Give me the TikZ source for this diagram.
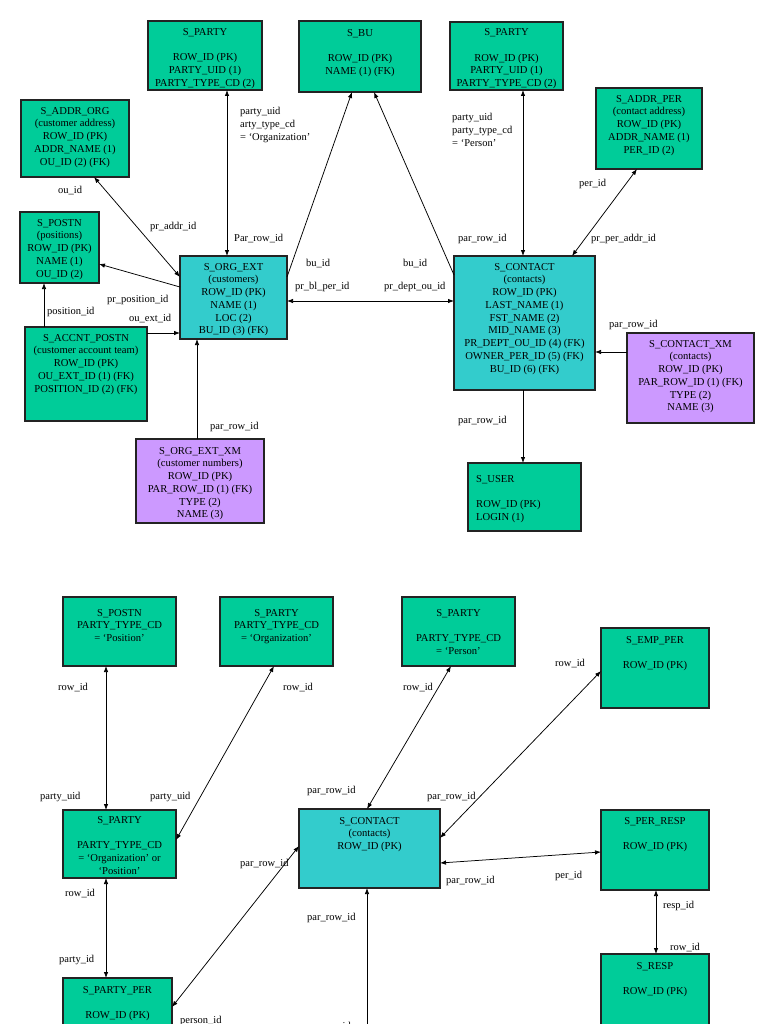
\documentclass[tikz,border=0pt]{standalone}
\usepackage{fontspec}
\setmainfont{Liberation Serif}
\usetikzlibrary{arrows.meta,calc}
\definecolor{tgreen}{RGB}{0,204,153}
\definecolor{tteal}{RGB}{51,204,204}
\definecolor{tpurple}{RGB}{204,153,255}
\definecolor{tborder}{RGB}{35,35,35}
\begin{document}
\begin{tikzpicture}[x=1pt,y=-1pt,
  box/.style={draw=tborder, line width=1.1pt, anchor=north west, inner sep=0pt, outer sep=0pt},
  gbox/.style={box, fill=tgreen},
  tbox/.style={box, fill=tteal},
  pbox/.style={box, fill=tpurple},
  txt/.style={font=\fontsize{10.6}{12.75}\selectfont, align=center, inner sep=0pt, anchor=north, yshift=-2.5pt,
              execute at begin node={\rule{0pt}{9pt}}},
  lbl/.style={font=\fontsize{10.5}{13}\selectfont, inner sep=0pt, anchor=base west, align=left},
  conn/.style={line width=0.75pt, -{Latex[length=6pt,width=4.5pt]}},
  bi/.style={line width=0.75pt, {Latex[length=6pt,width=4.5pt]}-{Latex[length=6pt,width=4.5pt]}}]
\useasboundingbox (0,0) rectangle (768,1024);
\fill[white] (0,0) rectangle (768,1024);

% ---------------- top half boxes ----------------
\node[gbox, minimum width=114pt, minimum height=69pt] (p1) at (148,21) {};
\node[txt] (p1t) at ($(p1.north)+(0,4.5)$) {S\_PARTY\\[12.75pt]ROW\_ID (PK)\\PARTY\_UID (1)\\PARTY\_TYPE\_CD (2)};

\node[gbox, minimum width=122pt, minimum height=71pt] (bu) at (299,21) {};
\node[txt] (but) at ($(bu.north)+(0,5.5)$) {S\_BU\\[12.75pt]ROW\_ID (PK)\\NAME (1) (FK)};

\node[gbox, minimum width=113pt, minimum height=68pt] (p2) at (450,22) {};
\node[txt] (p2t) at ($(p2.north)+(0,4)$) {S\_PARTY\\[12.75pt]ROW\_ID (PK)\\PARTY\_UID (1)\\PARTY\_TYPE\_CD (2)};

\node[gbox, minimum width=106pt, minimum height=81pt] (addrper) at (596,88) {};
\node[txt] (addrpert) at ($(addrper.north)+(0,4.5)$) {S\_ADDR\_PER\\(contact address)\\ROW\_ID (PK)\\ADDR\_NAME (1)\\PER\_ID (2)};

\node[gbox, minimum width=108pt, minimum height=77pt] (addrorg) at (21,100) {};
\node[txt] (addrorgt) at ($(addrorg.north)+(0,4.5)$) {S\_ADDR\_ORG\\(customer address)\\ROW\_ID (PK)\\ADDR\_NAME (1)\\OU\_ID (2) (FK)};

\node[gbox, minimum width=79pt, minimum height=71pt] (postn) at (20,212) {};
\node[txt] (postnt) at ($(postn.north)+(0,4.5)$) {S\_POSTN\\(positions)\\ROW\_ID (PK)\\NAME (1)\\OU\_ID (2)};

\node[tbox, minimum width=107pt, minimum height=83pt] (orgext) at (180,256) {};
\node[txt] (orgextt) at ($(orgext.north)+(0,4.5)$) {S\_ORG\_EXT\\(customers)\\ROW\_ID (PK)\\NAME (1)\\LOC (2)\\BU\_ID (3) (FK)};

\node[gbox, minimum width=122pt, minimum height=94pt] (accnt) at (25,327) {};
\node[txt] (accntt) at ($(accnt.north)+(0,4.5)$) {S\_ACCNT\_POSTN\\(customer account team)\\ROW\_ID (PK)\\OU\_EXT\_ID (1) (FK)\\POSITION\_ID (2) (FK)};

\node[pbox, minimum width=128pt, minimum height=84pt] (orgextxm) at (136,439) {};
\node[txt] (orgextxmt) at ($(orgextxm.north)+(0,5.5)$) {S\_ORG\_EXT\_XM\\(customer numbers)\\ROW\_ID (PK)\\PAR\_ROW\_ID (1) (FK)\\TYPE (2)\\NAME (3)};

\node[tbox, minimum width=141pt, minimum height=134pt] (contact) at (454,256) {};
\node[txt] (contactt) at ($(contact.north)+(0,4.5)$) {S\_CONTACT\\(contacts)\\ROW\_ID (PK)\\LAST\_NAME (1)\\FST\_NAME (2)\\MID\_NAME (3)\\PR\_DEPT\_OU\_ID (4) (FK)\\OWNER\_PER\_ID (5) (FK)\\BU\_ID (6) (FK)};

\node[pbox, minimum width=127pt, minimum height=90pt] (contactxm) at (627,333) {};
\node[txt] (contactxmt) at ($(contactxm.north)+(0,4.5)$) {S\_CONTACT\_XM\\(contacts)\\ROW\_ID (PK)\\PAR\_ROW\_ID (1) (FK)\\TYPE (2)\\NAME (3)};

\node[gbox, minimum width=113pt, minimum height=68pt] (user) at (468,463) {};
\node[txt, align=left, anchor=north west] (usert) at ($(user.north west)+(8,9.5)$) {S\_USER\\[12.75pt]ROW\_ID (PK)\\LOGIN (1)};

% ---------------- bottom half boxes ----------------
\node[gbox, minimum width=113pt, minimum height=69pt] (bpostn) at (63,597) {};
\node[txt] (bpostnt) at ($(bpostn.north)+(0,9.5)$) {S\_POSTN\\PARTY\_TYPE\_CD\\= ‘Position’};

\node[gbox, minimum width=113pt, minimum height=69pt] (bparty1) at (220,597) {};
\node[txt] (bparty1t) at ($(bparty1.north)+(0,9.5)$) {S\_PARTY\\PARTY\_TYPE\_CD\\= ‘Organization’};

\node[gbox, minimum width=113pt, minimum height=69pt] (bparty2) at (402,597) {};
\node[txt] (bparty2t) at ($(bparty2.north)+(0,9.5)$) {S\_PARTY\\[12.75pt]PARTY\_TYPE\_CD\\= ‘Person’};

\node[gbox, minimum width=108pt, minimum height=80pt] (bemp) at (601,628) {};
\node[txt] (bempt) at ($(bemp.north)+(0,5.5)$) {S\_EMP\_PER\\[12.75pt]ROW\_ID (PK)};

\node[gbox, minimum width=113pt, minimum height=68pt] (bparty3) at (63,810) {};
\node[txt] (bparty3t) at ($(bparty3.north)+(0,3.5)$) {S\_PARTY\\[12.75pt]PARTY\_TYPE\_CD\\= ‘Organization’ or\\‘Position’};

\node[tbox, minimum width=141pt, minimum height=79pt] (bcontact) at (299,809) {};
\node[txt] (bcontactt) at ($(bcontact.north)+(0,5.5)$) {S\_CONTACT\\(contacts)\\ROW\_ID (PK)};

\node[gbox, minimum width=108pt, minimum height=80pt] (bperresp) at (601,810) {};
\node[txt] (bperrespt) at ($(bperresp.north)+(0,4.5)$) {S\_PER\_RESP\\[12.75pt]ROW\_ID (PK)};

\node[gbox, minimum width=108pt, minimum height=85pt] (bresp) at (601,954) {};
\node[txt] (brespt) at ($(bresp.north)+(0,5.5)$) {S\_RESP\\[12.75pt]ROW\_ID (PK)};

\node[gbox, minimum width=109pt, minimum height=70pt] (bpartyper) at (63,978) {};
\node[txt] (bpartypert) at ($(bpartyper.north)+(0,5.5)$) {S\_PARTY\_PER\\[12.75pt]ROW\_ID (PK)};

% ---------------- top half connectors ----------------
\draw[bi] ($(p1.south west)+(79,0)$) -- ($(orgext.north west)+(47,0)$);
\draw[conn] ($(orgext.north east)+(0,21)$) -- ($(bu.south west)+(53,0)$);
\draw[conn] ($(contact.north west)+(0,19)$) -- ($(bu.south west)+(75,0)$);
\draw[bi] ($(orgext.north east)+(0,45)$) -- ($(contact.north west)+(0,45)$);
\draw[bi] ($(orgext.north west)+(0,21)$) -- ($(addrorg.south west)+(73,0)$);
\draw[conn] ($(orgext.north west)+(0,31)$) -- ($(postn.north east)+(0,52)$);
\draw[conn] ($(accnt.north west)+(19,0)$) -- ($(postn.south west)+(24,0)$);
\draw[conn] ($(accnt.north east)+(0,6)$) -- ($(orgext.north west)+(0,77)$);
\draw[conn] ($(orgextxm.north west)+(61,0)$) -- ($(orgext.south west)+(17,0)$);
\draw[bi] ($(p2.south west)+(73,0)$) -- ($(contact.north west)+(69,0)$);
\draw[bi] ($(contact.north west)+(118,0)$) -- ($(addrper.south west)+(41,0)$);
\draw[conn] ($(contactxm.north west)+(0,19)$) -- ($(contact.north east)+(0,96)$);
\draw[conn] ($(contact.south west)+(69,0)$) -- ($(user.north west)+(55,0)$);

% ---------------- bottom half connectors ----------------
\draw[bi] ($(bpostn.south west)+(43,0)$) -- ($(bparty3.north west)+(43,0)$);
\draw[bi] ($(bparty1.south west)+(54,0)$) -- ($(bparty3.north east)+(0,30)$);
\draw[bi] ($(bparty2.south west)+(49,0)$) -- ($(bcontact.north west)+(68,0)$);
\draw[bi] ($(bemp.north west)+(0,43)$) -- ($(bcontact.north east)+(0,29)$);
\draw[bi] ($(bcontact.north east)+(0,54)$) -- ($(bperresp.north west)+(0,42)$);
\draw[bi] ($(bperresp.south west)+(55,0)$) -- ($(bresp.north west)+(55,0)$);
\draw[bi] ($(bparty3.south west)+(43,0)$) -- ($(bpartyper.north west)+(43,0)$);
\draw[bi] ($(bpartyper.north east)+(0,29)$) -- ($(bcontact.north west)+(0,37)$);
\coordinate (bottomend) at (367,1030);
\draw[conn] (bottomend) -- ($(bcontact.south west)+(68,0)$);

% ---------------- labels top ----------------
\node[lbl] (l1) at (240,140.5) {party\_uid\\arty\_type\_cd\\= ‘Organization’};
\node[lbl] (l2) at (234,241.5) {Par\_row\_id};
\node[lbl] (l3) at (306,266.5) {bu\_id};
\node[lbl] (l4) at (403,266.5) {bu\_id};
\node[lbl] (l5) at (295,289.5) {pr\_bl\_per\_id};
\node[lbl] (l6) at (384,289.5) {pr\_dept\_ou\_id};
\node[lbl] (l7) at (58,193.5) {ou\_id};
\node[lbl] (l8) at (150,229.5) {pr\_addr\_id};
\node[lbl] (l9) at (107,302.5) {pr\_position\_id};
\node[lbl] (l10) at (47,314.5) {position\_id};
\node[lbl] (l11) at (129,321.5) {ou\_ext\_id};
\node[lbl] (l12) at (210,429.5) {par\_row\_id};
\node[lbl] (l13) at (452,146.5) {party\_uid\\party\_type\_cd\\= ‘Person’};
\node[lbl] (l14) at (458,241.5) {par\_row\_id};
\node[lbl] (l15) at (579,186.5) {per\_id};
\node[lbl] (l16) at (591,241.5) {pr\_per\_addr\_id};
\node[lbl] (l17) at (609,327.5) {par\_row\_id};
\node[lbl] (l18) at (458,423.5) {par\_row\_id};

% ---------------- labels bottom ----------------
\node[lbl] (m1) at (58,690.5) {row\_id};
\node[lbl] (m2) at (40,799.5) {party\_uid};
\node[lbl] (m3) at (283,690.5) {row\_id};
\node[lbl] (m4) at (150,799.5) {party\_uid};
\node[lbl] (m5) at (403,690.5) {row\_id};
\node[lbl] (m6) at (307,793.5) {par\_row\_id};
\node[lbl] (m7) at (555,666.5) {row\_id};
\node[lbl] (m8) at (427,799.5) {par\_row\_id};
\node[lbl] (m9) at (446,883.5) {par\_row\_id};
\node[lbl] (m10) at (555,878.5) {per\_id};
\node[lbl] (m11) at (663,908.5) {resp\_id};
\node[lbl] (m12) at (670,950.5) {row\_id};
\node[lbl] (m13) at (65,896.5) {row\_id};
\node[lbl] (m14) at (59,962.5) {party\_id};
\node[lbl] (m15) at (240,866.5) {par\_row\_id};
\node[lbl] (m16) at (180,1023.5) {person\_id};
\node[lbl] (m17) at (307,920.5) {par\_row\_id};
\node[lbl, anchor=base east] (m18) at (351,1029.5) {row\_id};
\end{tikzpicture}
\end{document}
